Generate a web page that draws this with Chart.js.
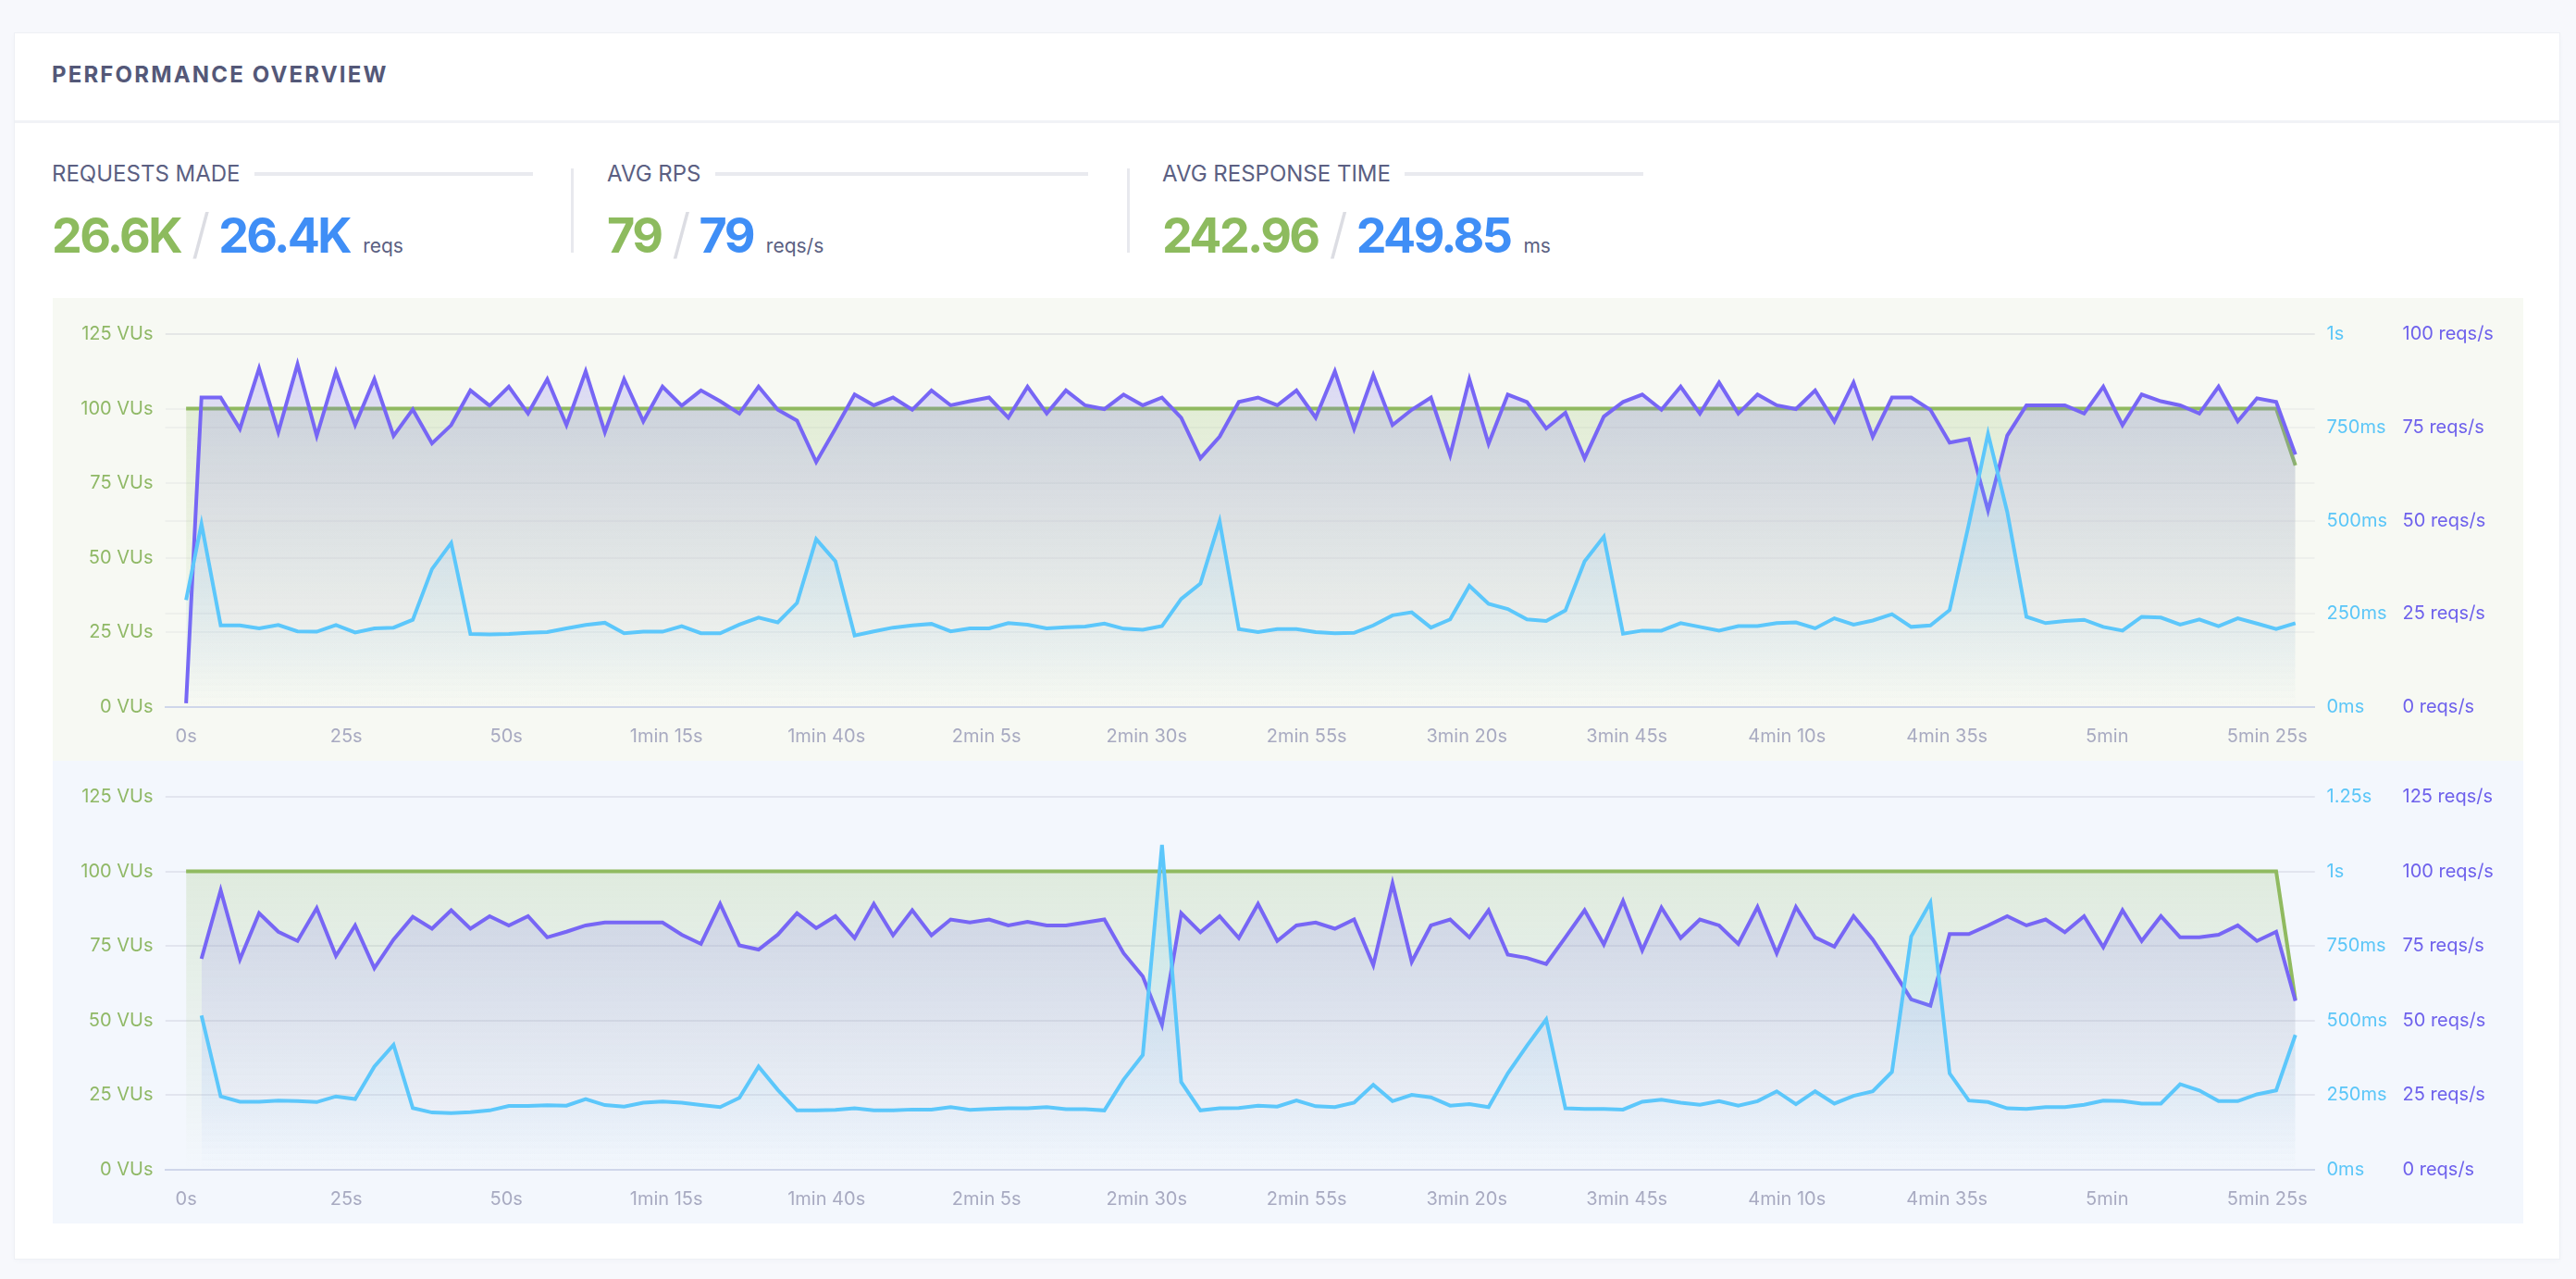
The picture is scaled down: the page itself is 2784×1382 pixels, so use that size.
<!DOCTYPE html>
<html>
<head>
<meta charset="utf-8">
<script src="https://cdn.jsdelivr.net/npm/chart.js@4/dist/chart.umd.min.js"></script>
<style>
    html, body { margin: 0; padding: 0; background: #f7f8fc; font-family: Inter, "Noto Sans", sans-serif; }
    #page   { position: relative; width: 2784px; height: 1382px; overflow: hidden; }
    .card   { position: absolute; left: 16px; top: 36px; width: 2750px; height: 1324px;
              background: #fff; box-shadow: 0 0 0 1px #eef0f5, 0 2px 6px rgba(80, 90, 140, 0.04); }
    .title  { position: absolute; left: 40px; top: 33px; font-size: 24px; line-height: 1;
              font-weight: 700; color: #545878; letter-spacing: 0.09em; }
    .sep-h  { position: absolute; left: 0; right: 0; top: 94px; height: 3px; background: #f1f2f6; }
    .stat   { position: absolute; top: 140px; width: 520px; }
    .stat .head  { display: flex; align-items: center; height: 24px; }
    .stat .label { font-size: 24px; line-height: 24px; color: #5b5f82; white-space: nowrap; }
    .stat .rule  { flex: 1; height: 4px; margin-left: 15px; background: #e9eaef; }
    .stat .vals  { display: flex; align-items: baseline; margin-top: 23px; white-space: nowrap; }
    .big    { font-size: 52px; line-height: 1; font-weight: 700; letter-spacing: -0.05em; }
    .green  { color: #8dbb5e; }
    .blue   { color: #3f8ef6; }
    .slash  { font-size: 58px; line-height: 1; font-weight: 300; color: #dcdde3; margin: 0 9px 0 12px; }
    .unit   { font-size: 21px; color: #5b5f82; margin-left: 14px; }
    .sep-v  { position: absolute; top: 146px; width: 3px; height: 91px; background: #e8e9ee; }
    .panel  { position: absolute; left: 40.5px; width: 2670px; height: 500px; }
    .panel canvas { display: block; }
</style>
</head>
<body>
<div id="page">
    <div class="card">
        <div class="title">PERFORMANCE OVERVIEW</div>
        <div class="sep-h"></div>

        <div class="stat" style="left:40px">
            <div class="head"><span class="label">REQUESTS MADE</span><span class="rule"></span></div>
            <div class="vals"><span class="big green">26.6K</span><span class="slash">/</span><span class="big blue">26.4K</span><span class="unit">reqs</span></div>
        </div>
        <div class="sep-v" style="left:601px"></div>
        <div class="stat" style="left:640px">
            <div class="head"><span class="label">AVG RPS</span><span class="rule"></span></div>
            <div class="vals"><span class="big green">79</span><span class="slash">/</span><span class="big blue">79</span><span class="unit">reqs/s</span></div>
        </div>
        <div class="sep-v" style="left:1202px"></div>
        <div class="stat" style="left:1240px">
            <div class="head"><span class="label">AVG RESPONSE TIME</span><span class="rule"></span></div>
            <div class="vals"><span class="big green">242.96</span><span class="slash">/</span><span class="big blue">249.85</span><span class="unit">ms</span></div>
        </div>

        <div class="panel" style="top:286px;background:#f7f9f3"><canvas id="chartTop" width="2670" height="500"></canvas></div>
        <div class="panel" style="top:786px;background:#f3f7fd"><canvas id="chartBottom" width="2670" height="500"></canvas></div>
    </div>
</div>

<script>
// ── Global Chart.js setup ─────────────────────────────────────────────
Chart.defaults.font.family = 'Inter, "Noto Sans", sans-serif';
Chart.defaults.font.size   = 20;
Chart.defaults.animation   = false;

// ── Data ──────────────────────────────────────────────────────────────
// sample times in seconds: first sample at 0, then every 3 s from 2.4 s
const SAMPLE_TIMES = [0].concat(Array.from({ length: 110 }, (_, k) => 2.4 + 3 * k));

/** x axis tick positions (seconds) */
const X_TICKS = [0, 25, 50, 75, 100, 125, 150, 175, 200, 225, 250, 275, 300, 325];

// top run
const TOP_VUS = [
    100, 100, 100, 100, 100, 100, 100, 100, 100, 100,
    100, 100, 100, 100, 100, 100, 100, 100, 100, 100,
    100, 100, 100, 100, 100, 100, 100, 100, 100, 100,
    100, 100, 100, 100, 100, 100, 100, 100, 100, 100,
    100, 100, 100, 100, 100, 100, 100, 100, 100, 100,
    100, 100, 100, 100, 100, 100, 100, 100, 100, 100,
    100, 100, 100, 100, 100, 100, 100, 100, 100, 100,
    100, 100, 100, 100, 100, 100, 100, 100, 100, 100,
    100, 100, 100, 100, 100, 100, 100, 100, 100, 100,
    100, 100, 100, 100, 100, 100, 100, 100, 100, 100,
    100, 100, 100, 100, 100, 100, 100, 100, 100, 100,
    81,
];
const TOP_RPS = [
    1, 83, 83, 74.6, 90.8, 73.7, 91.9, 72.7, 89.9, 75.6,
    87.9, 72.7, 79.8, 70.7, 75.6, 84.9, 80.8, 85.9, 78.7, 87.9,
    75.6, 90, 73.7, 87.9, 76.6, 85.9, 80.8, 84.9, 82, 78.7,
    85.9, 79.7, 76.8, 65.7, 74.6, 83.8, 80.9, 83, 79.7, 84.9,
    80.9, 82, 83, 77.6, 85.9, 78.7, 84.9, 80.9, 79.9, 83.8,
    80.9, 83, 77.6, 66.7, 72.5, 81.8, 83, 80.9, 84.9, 77.6,
    90, 74.6, 89, 75.6, 79.7, 83, 67.5, 87.9, 70.6, 83.8,
    81.8, 74.7, 78.9, 66.7, 77.9, 81.8, 83.8, 79.7, 85.9, 78.7,
    87, 78.7, 83.8, 80.9, 79.9, 84.9, 76.6, 87, 72.5, 83,
    83, 79.7, 70.9, 71.9, 52.7, 72.8, 80.9, 80.9, 80.9, 78.7,
    85.9, 75.6, 83.8, 82, 80.9, 78.7, 85.9, 76.6, 82.8, 81.8,
    67.7,
];
const TOP_RT = [
    287, 491, 219, 219, 211, 220, 203, 202, 220, 200,
    211, 213, 234, 370, 440, 196, 195, 196, 199, 201,
    211, 220, 226, 198, 202, 202, 217, 198, 198, 221,
    240, 227, 279, 450, 391, 192, 203, 213, 219, 223,
    203, 211, 211, 225, 221, 211, 214, 216, 224, 210,
    207, 217, 290, 331, 498, 209, 201, 209, 209, 201,
    198, 199, 219, 246, 254, 213, 235, 325, 277, 263,
    235, 231, 259, 391, 457, 197, 205, 205, 225, 215,
    205, 217, 217, 225, 227, 211, 238, 221, 232, 249,
    215, 219, 260, 490, 733, 523, 242, 225, 231, 234,
    215, 205, 242, 240, 221, 235, 217, 238, 224, 209,
    225,
];

// bottom run (no request sample at t = 0)
const BOTTOM_VUS = [
    100, 100, 100, 100, 100, 100, 100, 100, 100, 100,
    100, 100, 100, 100, 100, 100, 100, 100, 100, 100,
    100, 100, 100, 100, 100, 100, 100, 100, 100, 100,
    100, 100, 100, 100, 100, 100, 100, 100, 100, 100,
    100, 100, 100, 100, 100, 100, 100, 100, 100, 100,
    100, 100, 100, 100, 100, 100, 100, 100, 100, 100,
    100, 100, 100, 100, 100, 100, 100, 100, 100, 100,
    100, 100, 100, 100, 100, 100, 100, 100, 100, 100,
    100, 100, 100, 100, 100, 100, 100, 100, 100, 100,
    100, 100, 100, 100, 100, 100, 100, 100, 100, 100,
    100, 100, 100, 100, 100, 100, 100, 100, 100, 100,
    57,
];
const BOTTOM_RPS = [
    null, 70.7, 93.7, 70.5, 86, 79.8, 76.7, 87.7, 71.7, 81.9,
    67.6, 77.2, 84.8, 80.8, 87, 80.8, 85, 81.9, 85, 77.9,
    79.8, 81.9, 82.9, 82.9, 82.9, 82.9, 78.8, 75.7, 89.1, 75.2,
    73.8, 78.8, 86, 81, 85, 77.7, 89.1, 78.6, 87, 78.6,
    83.9, 82.9, 83.9, 81.9, 83.1, 81.9, 81.9, 82.9, 83.9, 72.6,
    64.8, 48.6, 86, 79.6, 85, 77.7, 89.1, 76.7, 81.9, 82.9,
    80.8, 83.9, 68.6, 96, 69.7, 81.9, 83.9, 77.9, 87, 72.1,
    71, 69, 77.9, 87, 75.5, 90.1, 73.6, 87.9, 77.7, 83.9,
    81.9, 75.7, 88.1, 72.6, 88.1, 77.9, 74.8, 85, 77.2, 67.4,
    57.1, 55, 79, 79, 81.9, 85, 81.9, 83.9, 79.6, 85,
    74.6, 87, 76.7, 85, 77.9, 77.9, 78.8, 81.9, 76.7, 79.8,
    56.6,
];
const BOTTOM_RT = [
    null, 517, 246, 228, 228, 232, 230, 227, 246, 237,
    346, 419, 207, 192, 190, 193, 199, 214, 214, 216,
    215, 237, 217, 212, 225, 229, 225, 217, 210, 241,
    346, 268, 199, 199, 201, 206, 199, 199, 202, 202,
    210, 201, 204, 206, 206, 210, 203, 203, 199, 302,
    385, 1089, 294, 199, 206, 207, 215, 212, 232, 213,
    210, 225, 285, 230, 251, 243, 215, 220, 210, 323,
    416, 504, 206, 204, 204, 202, 228, 235, 225, 218,
    230, 215, 230, 263, 220, 263, 222, 248, 263, 328,
    782, 896, 323, 232, 227, 206, 204, 210, 210, 218,
    232, 230, 222, 222, 287, 266, 230, 230, 253, 266,
    452,
];

// ── Style ─────────────────────────────────────────────────────────────
const VERT   = { line: '#90ba60', rgb: '141,186,94',  tick: '#8fb865' };
const VIOLET = { line: '#7766f5', rgb: '119,104,245', tick: '#6e61ec' };
const CYAN   = { line: '#5cc7fb', rgb: '92,199,251',  tick: '#5bc6f8' };
const GRILLE = 'rgba(70, 80, 120, 0.05)';

/** "5min 25s" style label from seconds */
function formatSeconds(v) {
    const m = Math.floor(v / 60);
    const s = v % 60;
    if (m === 0) return s + 's';
    if (s === 0) return m + 'min';
    return m + 'min ' + s + 's';
}

function formatMs(v) {
    if (v === 0) return '0ms';
    if (v < 1000) return v + 'ms';
    return (v / 1000) + 's';
}

/** vertical gradient under a line, fading to the x axis */
function degrade(chart, rgb) {
    const { ctx, chartArea } = chart;
    if (!chartArea) return 'transparent';
    const g = ctx.createLinearGradient(0, chartArea.top, 0, chartArea.bottom);
    g.addColorStop(0, `rgba(${rgb},0.24)`);
    g.addColorStop(1, `rgba(${rgb},0)`);
    return g;
}

function serie(values, axisId, style, order) {
    return {
        data:            SAMPLE_TIMES.map((t, i) => ({ x: t, y: values[i] })),
        yAxisID:         axisId,
        order,
        borderColor:     style.line,
        borderWidth:     4,
        pointRadius:     0,
        tension:         0,
        fill:            'origin',
        backgroundColor: ctx => degrade(ctx.chart, style.rgb),
    };
}

/**
 * Build one performance chart.
 *
 * @param {string}   id     — canvas id
 * @param {number[]} vus    — virtual users
 * @param {number[]} rps    — requests per second
 * @param {number[]} rt     — response time (ms)
 * @param {number}   rtMax  — top of response time axis (ms)
 * @param {number}   rpsMax — top of request rate axis
 */
function creerGraph(id, vus, rps, rt, rtMax, rpsMax) {
    new Chart(document.getElementById(id), {
        type: 'line',
        data: {
            datasets: [
                serie(rt,  'rt',  CYAN,   0),
                serie(rps, 'rps', VIOLET, 1),
                serie(vus, 'vus', VERT,   2),
            ],
        },
        options: {
            responsive:       false,
            devicePixelRatio: 1,
            layout:  { padding: { top: 39, left: 0, right: 0, bottom: 0 } },
            plugins: { legend: { display: false }, tooltip: { enabled: false } },
            scales: {
                x: {
                    type: 'linear',
                    min:  -3.27,
                    max:  332.4,
                    afterBuildTicks: axis => { axis.ticks = X_TICKS.map(value => ({ value })); },
                    afterFit: axis => { axis.height = 58; },
                    ticks:  { color: '#a8aac1', padding: 20, autoSkip: false, maxRotation: 0, callback: formatSeconds },
                    grid:   { display: false, drawTicks: false },
                    border: { display: true, color: '#cfd6ea', width: 2 },
                },
                vus: {
                    position: 'left',
                    min: 0, max: 125,
                    afterFit: axis => { axis.width = 121.5; },
                    ticks:  { stepSize: 25, color: VERT.tick, padding: 13, callback: v => v + ' VUs' },
                    grid:   { color: GRILLE, lineWidth: 2, drawTicks: false },
                    border: { display: false },
                },
                rt: {
                    position: 'right',
                    weight: 1,
                    min: 0, max: rtMax,
                    afterFit: axis => { axis.width = 82; },
                    ticks:  { stepSize: 250, color: CYAN.tick, padding: 13, callback: formatMs },
                    grid:   { color: GRILLE, lineWidth: 2, drawTicks: false },
                    border: { display: false },
                },
                rps: {
                    position: 'right',
                    weight: 2,
                    min: 0, max: rpsMax,
                    afterFit: axis => { axis.width = 143.5; },
                    ticks:  { stepSize: 25, color: VIOLET.tick, padding: 13, callback: v => v + ' reqs/s' },
                    grid:   { display: false, drawTicks: false },
                    border: { display: false },
                },
            },
        },
    });
}

creerGraph('chartTop',    TOP_VUS,    TOP_RPS,    TOP_RT,    1000, 100);
creerGraph('chartBottom', BOTTOM_VUS, BOTTOM_RPS, BOTTOM_RT, 1250, 125);
</script>
</body>
</html>
